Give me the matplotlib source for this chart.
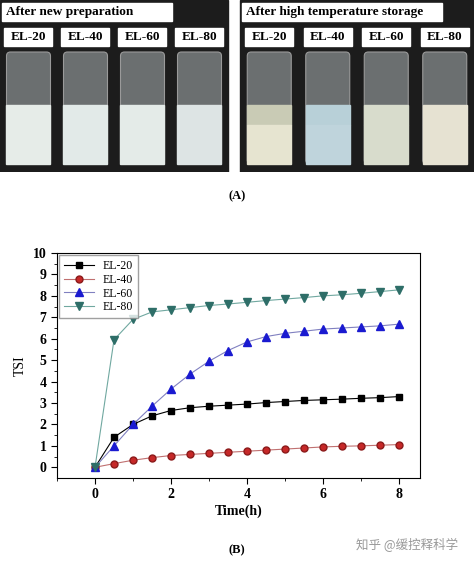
import matplotlib.pyplot as plt
from matplotlib.patches import Rectangle, FancyBboxPatch

time_h = [0, 0.5, 1, 1.5, 2, 2.5, 3, 3.5, 4, 4.5, 5, 5.5, 6, 6.5, 7, 7.5, 8]
el20 = [0, 1.4, 2.0, 2.4, 2.65, 2.78, 2.85, 2.9, 2.95, 3.02, 3.07, 3.12, 3.15, 3.18, 3.22, 3.25, 3.3]
el40 = [0, 0.17, 0.33, 0.45, 0.55, 0.6, 0.65, 0.7, 0.75, 0.8, 0.85, 0.9, 0.95, 0.98, 1.0, 1.03, 1.06]
el60 = [0, 1.0, 2.0, 2.85, 3.65, 4.35, 4.95, 5.45, 5.85, 6.1, 6.25, 6.35, 6.45, 6.5, 6.55, 6.6, 6.68]
el80 = [0, 5.95, 6.9, 7.25, 7.35, 7.45, 7.55, 7.62, 7.7, 7.78, 7.85, 7.92, 8.0, 8.05, 8.12, 8.2, 8.28]

vial_labels = ["EL-20", "EL-40", "EL-60", "EL-80"]
panel_titles = ["After new preparation", "After high temperature storage"]
# colour of the emulsion in each vial (fresh, stored)
fresh_colors = ["#e6ece8", "#e2eae8", "#e4ebe8", "#dde4e4"]
stored_colors = [("#c9cbb5", "#e6e4d0"), ("#b8d0d8", "#bfd4dc"), ("#d8dccc", "#d8dccc"), ("#e6e2d2", "#e6e2d2")]

W, H = 474, 563
fig = plt.figure(figsize=(W / 100, H / 100), dpi=100)
fig.patch.set_facecolor("white")
serif = "Liberation Serif"

# photo panel (A), drawn in pixel coordinates
pax = fig.add_axes([0, 1 - 172 / H, 1, 172 / H])
pax.set_xlim(0, W)
pax.set_ylim(172, 0)
pax.axis("off")
panels = [(0, 228), (240, 474)]
for p, (x0, x1) in enumerate(panels):
    pax.add_patch(Rectangle((x0, 0), x1 - x0, 172, color="#1c1c1c"))
    tw = 170 if p == 0 else 200
    pax.add_patch(Rectangle((x0 + 2, 3), tw, 18, color="white"))
    pax.text(x0 + 6, 12, panel_titles[p], fontsize=9.5, fontweight="bold",
             family=serif, va="center")
    step = (x1 - x0) / 4
    for i in range(4):
        cx = x0 + step * (i + 0.5)
        pax.add_patch(Rectangle((cx - 24, 28), 48, 18, color="white"))
        pax.text(cx, 37, vial_labels[i], fontsize=9.5, fontweight="bold",
                 family=serif, ha="center", va="center")
        pax.add_patch(FancyBboxPatch((cx - 22, 52), 44, 112, boxstyle="round,pad=0,rounding_size=4",
                                     fc="#6b6f70", ec="#9a9a9a", lw=0.8))
        if p == 0:
            pax.add_patch(Rectangle((cx - 22, 105), 44, 59, color=fresh_colors[i]))
        else:
            top, bot = stored_colors[i]
            pax.add_patch(Rectangle((cx - 22, 105), 44, 20, color=top))
            pax.add_patch(Rectangle((cx - 22, 125), 44, 39, color=bot))
fig.text(237 / W, 1 - 196 / H, "(A)", fontsize=9, fontweight="bold", family=serif, ha="center", va="center")

# TSI chart (B)
ax = fig.add_axes([57 / W, 1 - 478 / H, (420 - 57) / W, (478 - 253) / H])
ax.plot(time_h, el20, "-s", color="black", mfc="black", ms=5, lw=0.8, label="EL-20")
ax.plot(time_h, el40, "-o", color="#c07070", mfc="#c62828", mec="#8b1a1a", ms=5, lw=0.8, label="EL-40")
ax.plot(time_h, el60, "-^", color="#8080c0", mfc="#1a1ad0", mec="#1a1ad0", ms=6, lw=0.8, label="EL-60")
ax.plot(time_h, el80, "-v", color="#70a8a0", mfc="#2e6e68", mec="#2e6e68", ms=6, lw=0.8, label="EL-80")
ax.set_xlim(-1.0, 8.55)
ax.set_ylim(-0.5, 10)
ax.set_xticks([0, 2, 4, 6, 8])
ax.set_yticks(range(0, 11))
ax.set_xticks([-1, 1, 3, 5, 7], minor=True)
ax.set_yticks([i + 0.5 for i in range(10)], minor=True)
ax.tick_params(labelsize=10, direction="out", length=4)
ax.tick_params(which="minor", length=2)
for lab in ax.get_xticklabels() + ax.get_yticklabels():
    lab.set_fontfamily(serif)
    lab.set_fontweight("bold")
ax.set_xlabel("Time(h)", fontsize=10, fontweight="bold", family=serif, labelpad=2)
ax.set_ylabel("TSI", fontsize=10, family=serif, labelpad=4)
ax.legend(loc="upper left", prop={"family": serif, "size": 8.5}, frameon=True, fancybox=False,
          edgecolor="#888888", borderaxespad=0.2, handlelength=2.5, labelspacing=0.15)

fig.text(237 / W, 1 - 550 / H, "(B)", fontsize=9, fontweight="bold", family=serif, ha="center", va="center")
fig.text(356 / W, 1 - 545 / H, "知乎 @缓控释科学", fontsize=9, color="#999999",
         family=["Noto Sans CJK SC", "DejaVu Sans"], ha="left", va="center")

fig.savefig("out.png", dpi=100)
